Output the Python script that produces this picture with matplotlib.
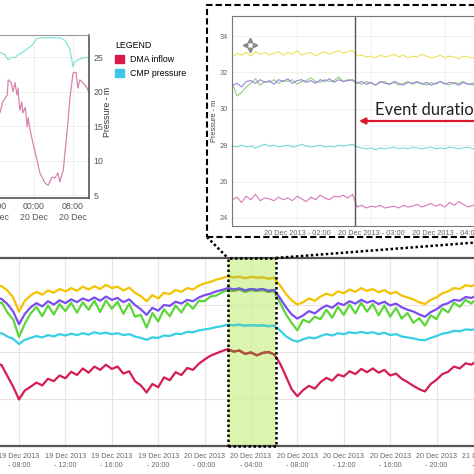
import numpy as np
import matplotlib.pyplot as plt
from matplotlib.patches import Rectangle, Patch
from matplotlib.lines import Line2D

plt.rcParams['font.family'] = ['Liberation Sans', 'DejaVu Sans']

# ---- main chart: 19-20 Dec 2013, hours since 19 Dec 00:00 ----
main_hours = np.arange(5.5, 48.01, 0.5)
yellow = [34.9, 34.2, 34.0, 33.1, 31.6, 28.6, 30.9, 32.0, 32.8, 32.2,
          33.1, 32.6, 33.4, 32.9, 33.6, 33.0, 33.9, 33.3, 34.0, 33.4,
          34.3, 33.6, 33.9, 33.1, 33.7, 32.6, 31.9, 30.8, 32.1, 31.4,
          32.6, 32.3, 33.2, 32.8, 33.6, 33.3, 34.1, 34.6, 34.9, 35.4,
          35.7, 36.1, 35.9, 36.0, 35.7, 36.0, 35.8, 35.9, 35.6, 35.8,
          34.2, 32.4, 31.0, 30.1, 30.6, 31.4, 30.9, 31.8, 32.4, 32.0,
          32.9, 32.5, 33.3, 32.8, 33.6, 33.0, 33.4, 32.7, 33.2, 32.4,
          32.8, 32.0, 31.6, 31.2, 30.6, 30.2, 31.1, 31.6, 32.5, 32.9,
          33.6, 33.4, 34.2, 34.0, 34.6, 35.0]
purple = [31.9, 31.5, 31.3, 30.2, 28.6, 25.9, 28.1, 29.5, 30.4, 29.7,
          30.8, 30.1, 31.0, 30.4, 31.2, 30.6, 31.4, 30.9, 31.6, 30.9,
          31.8, 31.1, 31.5, 30.6, 31.2, 30.0, 29.1, 27.9, 29.4, 28.8,
          30.0, 29.8, 30.7, 30.3, 31.1, 30.8, 31.6, 32.1, 32.4, 32.9,
          33.2, 33.6, 33.3, 33.5, 33.1, 33.4, 33.2, 33.4, 33.0, 33.2,
          31.5, 29.6, 28.0, 27.1, 27.8, 28.7, 28.2, 29.2, 29.9, 29.4,
          30.4, 30.0, 30.8, 30.3, 31.1, 30.5, 30.9, 30.2, 30.7, 29.9,
          30.3, 29.5, 29.0, 28.6, 28.0, 27.5, 28.5, 29.1, 30.0, 30.4,
          31.1, 30.9, 31.7, 31.5, 32.1, 32.5]
green = [31.2, 29.9, 30.6, 28.4, 26.9, 23.2, 26.0, 28.2, 29.6, 27.6,
         29.9, 28.0, 30.2, 28.7, 30.5, 28.4, 30.6, 29.0, 30.9, 28.5,
         31.0, 29.2, 30.7, 28.1, 30.3, 27.5, 27.9, 25.2, 28.3, 26.5,
         29.1, 27.6, 29.9, 28.4, 30.4, 29.2, 30.9, 30.8, 31.8, 32.0,
         32.7, 33.2, 33.0, 33.3, 32.8, 33.2, 33.0, 33.2, 32.8, 33.0,
         30.5, 28.1, 26.2, 24.6, 26.9, 26.3, 27.5, 27.0, 29.0, 27.3,
         29.6, 27.9, 30.1, 28.2, 30.5, 28.6, 30.2, 27.8, 29.9, 27.5,
         29.4, 27.1, 28.3, 26.2, 27.2, 25.6, 27.8, 27.0, 29.3, 28.4,
         30.5, 29.6, 31.1, 30.3, 31.6, 32.0]
cyan = [24.3, 23.8, 24.0, 23.3, 22.8, 21.7, 22.6, 23.0, 23.4, 23.1,
        23.6, 23.3, 23.8, 23.5, 23.9, 23.6, 24.0, 23.7, 24.2, 23.9,
        24.1, 23.8, 24.0, 23.6, 23.8, 23.3, 23.0, 22.6, 23.1, 23.0,
        23.5, 23.4, 23.9, 23.8, 24.3, 24.2, 24.6, 24.8, 25.0, 25.3,
        25.5, 25.8, 25.7, 25.8, 25.6, 25.7, 25.6, 25.7, 25.5, 25.6,
        24.6, 23.4, 22.6, 22.2, 22.7, 23.1, 22.9, 23.4, 23.8, 23.5,
        24.0, 23.8, 24.2, 24.0, 24.3, 24.0, 24.2, 23.8, 24.1, 23.6,
        23.8, 23.3, 23.1, 22.9, 22.6, 22.5, 23.0, 23.4, 23.9, 24.1,
        24.5, 24.4, 24.8, 24.7, 25.0, 25.2]
red = [18.6, 17.8, 17.2, 14.9, 12.6, 9.9, 11.8, 12.6, 13.5, 12.9,
       14.3, 13.8, 15.0, 14.4, 15.8, 15.1, 16.5, 15.6, 16.9, 16.2,
       17.3, 16.4, 16.9, 15.4, 15.9, 13.8, 12.9, 11.4, 13.2, 12.5,
       14.6, 14.0, 15.7, 15.1, 16.6, 16.2, 17.5, 18.4, 19.2, 19.7,
       20.2, 20.6, 20.1, 20.3, 19.6, 19.9, 19.3, 19.8, 20.0, 19.5,
       17.6, 14.9, 12.1, 10.6, 11.9, 12.8, 12.2, 13.6, 14.5, 13.9,
       15.2, 14.8, 15.9, 15.3, 16.4, 15.7, 16.5, 15.6, 16.2, 15.0,
       15.4, 14.3, 13.6, 12.8, 12.1, 11.6, 13.2, 14.1, 15.3, 15.8,
       16.9, 16.5, 17.6, 17.3, 18.2, 18.5]
event_start, event_end = 26.0, 30.15
main_ticks = [8, 12, 16, 20, 24, 28, 32, 36, 40, 44, 48]
main_tick_labels = ['19 Dec 2013\n- 08:00', '19 Dec 2013\n- 12:00', '19 Dec 2013\n- 16:00',
                    '19 Dec 2013\n- 20:00', '20 Dec 2013\n- 00:00', '20 Dec 2013\n- 04:00',
                    '20 Dec 2013\n- 08:00', '20 Dec 2013\n- 12:00', '20 Dec 2013\n- 16:00',
                    '20 Dec 2013\n- 20:00', '21 Dec 2013\n- 00:00']

# ---- zoomed inset: hours since 20 Dec 00:00 ----
inset_hours = np.arange(1.125, 4.44, 0.0625)
in_yellow = [32.85, 33.05, 32.95, 33.1, 32.9, 33.15, 33.0, 33.1, 32.95, 33.05, 33.15, 32.95, 33.1, 33.0,
             33.2, 32.95, 33.05, 33.1, 32.9, 33.05, 33.15, 33.0, 33.1, 33.2, 33.05, 33.15, 33.2,
             32.9, 32.95, 32.85, 32.9, 32.8, 32.95, 32.85, 32.9, 33.0, 32.85, 32.95, 32.8, 32.9, 32.85,
             33.0, 32.9, 32.8, 32.85, 32.95, 32.8, 32.9, 32.85, 32.75, 32.9, 32.85, 32.8, 32.9]
in_purple = [31.3, 31.4, 31.2, 31.5, 31.55, 31.4, 31.6, 31.45, 31.55, 31.35, 31.6, 31.5, 31.65, 31.4,
             31.55, 31.6, 31.45, 31.55, 31.4, 31.6, 31.5, 31.65, 31.45, 31.6, 31.5, 31.55, 31.6,
             31.4, 31.5, 31.35, 31.45, 31.3, 31.5, 31.4, 31.35, 31.5, 31.4, 31.3, 31.45, 31.4, 31.5,
             31.35, 31.45, 31.3, 31.4, 31.5, 31.35, 31.45, 31.4, 31.3, 31.45, 31.35, 31.4, 31.5]
in_green = [31.4, 30.7, 30.9, 31.2, 31.4, 31.65, 31.3, 31.5, 31.45, 31.6, 31.4, 31.55, 31.5, 31.6,
            31.35, 31.5, 31.55, 31.7, 31.5, 31.45, 31.6, 31.5, 31.55, 31.75, 31.5, 31.6, 31.55,
            31.45, 31.35, 31.5, 31.4, 31.3, 31.45, 31.5, 31.35, 31.45, 31.3, 31.4, 31.5, 31.35, 31.45,
            31.4, 31.3, 31.45, 31.35, 31.5, 31.4, 31.3, 31.45, 31.4, 31.5, 31.35, 31.3, 31.4]
in_cyan = [27.95, 27.9, 28.0, 27.9, 27.95, 27.85, 27.95, 28.05, 27.95, 28.0, 27.9, 27.95, 28.0, 27.9,
           27.95, 28.05, 27.95, 27.9, 27.95, 28.0, 27.9, 27.95, 27.9, 28.0, 27.95, 28.0, 28.05,
           27.9, 27.85, 27.8, 27.85, 27.75, 27.85, 27.8, 27.85, 27.9, 27.8, 27.85, 27.8, 27.9, 27.85,
           27.8, 27.85, 27.9, 27.8, 27.85, 27.8, 27.9, 27.85, 27.8, 27.85, 27.9, 27.8, 27.85]
in_pink = [25.0, 25.15, 24.85, 25.2, 25.0, 25.3, 24.95, 25.1, 25.05, 24.95, 25.15, 25.0, 25.1, 24.95,
           25.2, 25.05, 24.9, 25.15, 25.0, 25.25, 25.1, 25.0, 25.2, 25.15, 25.25, 25.1, 25.3,
           24.6, 24.7, 24.55, 24.65, 24.6, 24.7, 24.55, 24.6, 24.65, 24.55, 24.7, 24.6, 24.65, 24.75,
           24.6, 24.7, 24.8, 24.65, 24.75, 24.6, 24.85, 24.7, 24.9, 24.75, 24.6, 24.7, 24.65]
inset_event = 2.78
inset_ticks = [2, 3, 4]
inset_tick_labels = ['20 Dec 2013 - 02:00', '20 Dec 2013 - 03:00', '20 Dec 2013 - 04:00']
inset_yticks = [24, 26, 28, 30, 32, 34]

# ---- small top-left chart: hours since 20 Dec 00:00 ----
cmp_hours = [-9.0, -7.0, -5.9, -5.3, -4.5, -3.9, -3.3, -2.3, -1.2, -0.4, 0.6, 1.8, 3.3,
             5.3, 6.4, 7.4, 8.0, 8.4, 9.0, 10.1, 11.3]
cmp_pressure = [25.9, 25.7, 25.3, 24.6, 25.0, 24.9, 25.3, 25.7, 26.3, 26.7, 27.7, 27.8, 27.8,
                27.8, 27.4, 26.0, 23.6, 24.3, 24.6, 24.9, 25.0]
dma_hours = [-9.0, -7.0, -6.4, -5.5, -5.3, -4.7, -4.3, -3.9, -3.5, -3.3, -2.9, -2.5, -2.3, -1.8,
             -1.4, -1.2, -0.8, -0.2, 0.6, 1.2, 2.3, 2.9, 3.7, 4.3, 4.9, 5.3, 6.0, 6.8, 7.4,
             8.0, 8.6, 9.0, 9.4, 10.0, 10.9, 11.3]
dma_inflow = [16.2, 16.9, 18.5, 19.5, 21.7, 21.3, 20.0, 21.3, 19.5, 20.5, 17.3, 18.5, 16.9, 17.7,
              14.9, 16.2, 14.4, 12.5, 10.1, 8.2, 6.7, 6.4, 7.6, 7.5, 8.2, 6.9, 8.6, 14.4, 19.2,
              22.7, 22.8, 20.5, 21.7, 21.3, 20.5, 19.8]
small_ticks = [-8, 0, 8]
small_tick_labels = ['16:00\n19 Dec', '00:00\n20 Dec', '08:00\n20 Dec']

W = H = 474
fig = plt.figure(figsize=(4.74, 4.74), dpi=100)


def px_axes(x0, y0, x1, y1):
    # box given in pixels from the top-left corner
    return fig.add_axes([x0 / W, 1 - y1 / H, (x1 - x0) / W, (y1 - y0) / H])


# main chart
ax = px_axes(-10, 258, 484, 446)
ax.set_xlim(5.5, 48.09)
ax.set_ylim(0, 40)
ax.axvspan(event_start, event_end, color='#d2f29a', alpha=0.8, zorder=1, lw=0)
series = [(green, '#5cd63a', '#72b846'), (purple, '#7a4cf2', '#6c60c9'),
          (yellow, '#f4c300', '#d0c22a'), (cyan, '#36cfe4', '#52cdc6'),
          (red, '#d41e52', '#a8583a')]
band = Rectangle((event_start, 0), event_end - event_start, 40, transform=ax.transData,
                 fill=False, lw=0)
ax.add_patch(band)
for vals, col, col_in in series:
    ax.plot(main_hours, vals, color=col, lw=1.6, zorder=2)
    ln, = ax.plot(main_hours, vals, color=col_in, lw=1.6, zorder=3)
    ln.set_clip_path(band)
ax.add_patch(Rectangle((event_start, 0), event_end - event_start, 40, fill=False,
                       ec='black', lw=1.8, ls=(0, (1, 1)), zorder=4, clip_on=False))
ax.set_xticks(main_ticks)
ax.set_xticklabels(main_tick_labels, fontsize=5.2, color='#666666', linespacing=1.5)
ax.set_yticks([10, 20, 30])
ax.set_yticklabels([])
ax.tick_params(length=0, pad=5)
ax.grid(color='#ebe3e3', lw=0.8)
ax.set_axisbelow(True)
for s in ['left', 'right']:
    ax.spines[s].set_visible(False)
for s in ['top', 'bottom']:
    ax.spines[s].set_color('#555555')
    ax.spines[s].set_linewidth(1.6)

# small top-left chart
sa = px_axes(-10, 35, 89, 198)
sa.set_xlim(-9.03, 11.28)
sa.set_ylim(4.57, 28.2)
sa.plot(cmp_hours, cmp_pressure, color='#86e3d6', lw=0.9)
sa.plot(dma_hours, dma_inflow, color='#d884ae', lw=0.9)
sa.yaxis.tick_right()
sa.set_yticks([5, 10, 15, 20, 25])
sa.set_xticks(small_ticks)
sa.set_xticklabels(small_tick_labels, linespacing=1.3)
sa.tick_params(length=0, labelsize=6.3, colors='#555555', pad=3)
sa.grid(color='#eeeeee', lw=0.7)
sa.spines['left'].set_visible(False)
sa.spines['top'].set_color('#999999')
sa.spines['right'].set_color('#555555')
sa.spines['bottom'].set_color('#555555')
sa.spines['right'].set_linewidth(1.2)
sa.spines['bottom'].set_linewidth(1.2)
fig.text(107 / W, 1 - 112 / H, 'Pressure - m', rotation=90, ha='center', va='center',
         fontsize=6.3, color='#333333')
leg = fig.legend(handles=[Patch(color='#d81b4a', label='DMA inflow'),
                          Patch(color='#3cc6e6', label='CMP pressure')],
                 title='LEGEND', loc='upper left', bbox_to_anchor=(109 / W, 1 - 35 / H),
                 frameon=False, fontsize=6.3, title_fontsize=6.3, handlelength=1.0,
                 handleheight=1.1, handletextpad=0.7, labelspacing=0.55, borderpad=0.2)
leg._legend_box.align = 'left'

# inset with dashed frame
fig.patches.append(Rectangle((207 / W, 1 - 237 / H), 290 / W, 232 / H, transform=fig.transFigure,
                             fill=False, ec='black', lw=1.5, ls=(0, (3, 1.5))))
ia = px_axes(232, 16, 490, 226)
ia.set_xlim(1.12, 4.61)
ia.set_ylim(23.56, 35.1)
for vals, col in [(in_green, '#8fd07c'), (in_purple, '#9a82e2'), (in_yellow, '#ece15a'),
                  (in_cyan, '#74d9d6'), (in_pink, '#d679b6')]:
    ia.plot(inset_hours, vals, color=col, lw=0.8)
ia.axvline(inset_event, color='#555555', lw=1.0)
ia.set_xticks(inset_ticks)
ia.set_xticklabels(inset_tick_labels)
ia.set_yticks(inset_yticks)
ia.tick_params(length=0, labelsize=5.3, colors='#666666', pad=3)
ia.set_ylabel('Pressure - m', fontsize=5.3, color='#444444', labelpad=1)
ia.grid(color='#efefef', lw=0.6)
ia.spines['right'].set_visible(False)
for s in ['left', 'top', 'bottom']:
    ia.spines[s].set_color('#777777')
# pan icon
for dx, dy, m in [(0, 0.026, '^'), (0, -0.026, 'v'), (-0.021, 0, '<'), (0.021, 0, '>')]:
    ia.plot(0.07 + dx, 0.862 + dy, marker=m, color='#8a8a8a', ms=3.2, transform=ia.transAxes)
ia.annotate('', xy=(inset_event + 0.02, 29.33), xytext=(4.75, 29.33),
            arrowprops=dict(arrowstyle='-|>', color='#d9182e', lw=1.6, mutation_scale=9),
            annotation_clip=False)
ia.text(3.05, 29.95, 'Event duration', fontsize=12, family='Lato', color='#222222',
        va='center', ha='left', clip_on=False)

# dotted connectors between the green band and the inset frame
to_fig = fig.transFigure.inverted()
fig.canvas.draw()
tl = to_fig.transform(ax.transData.transform((event_start, 40)))
tr = to_fig.transform(ax.transData.transform((event_end, 40)))
dot = dict(color='black', lw=1.8, ls=(0, (1, 1)), transform=fig.transFigure)
fig.lines.append(Line2D([207 / W, tl[0]], [1 - 237 / H, tl[1]], **dot))
fig.lines.append(Line2D([tr[0], 1.03], [tr[1], 1 - 241.5 / H], **dot))

fig.savefig('out.png', dpi=100)
